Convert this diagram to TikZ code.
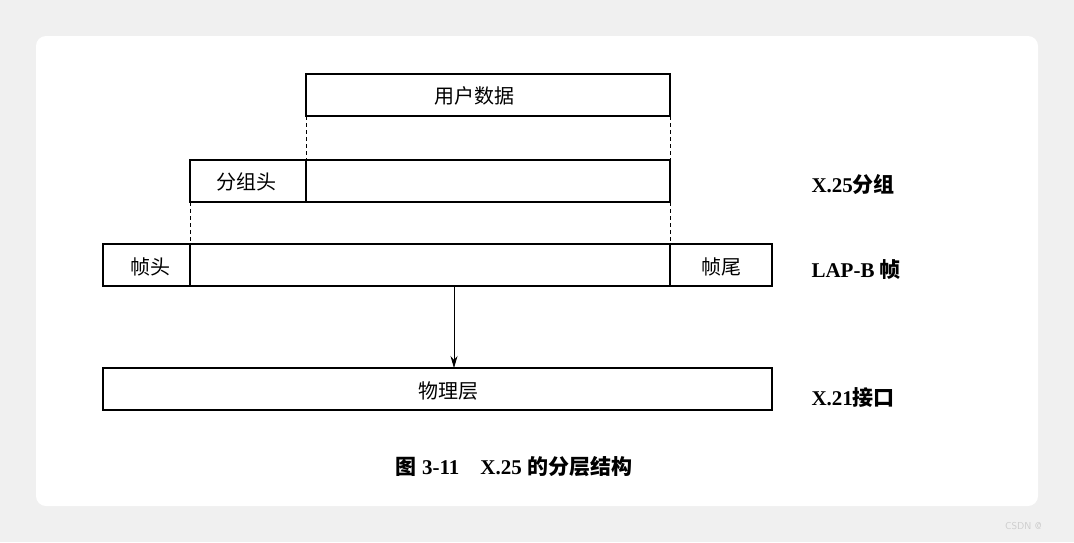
\documentclass[tikz,border=0pt]{standalone}
\usepackage{fontspec}
\setmainfont{Liberation Serif}
\newfontfamily\cjk{Noto Sans CJK SC}
\usetikzlibrary{arrows.meta}
\begin{document}
\begin{tikzpicture}[x=1pt,y=-1pt,
  bx/.style={draw,line width=1.2pt},
  dsh/.style={dash pattern=on 4pt off 3pt,line width=0.7pt},
  lab/.style={font=\fontsize{20}{20}\selectfont\cjk},
  side/.style={font=\fontsize{21}{21}\selectfont\bfseries,anchor=west}]
\fill[gray!12] (0,0) rectangle (1074,542);
\fill[white,rounded corners=10pt] (36,36) rectangle (1038,506);
\useasboundingbox (0,0) rectangle (1074,542);
% user data
\draw[bx] (306,74) rectangle (670,116);
\node[lab] (ud) at (474,96) {用户数据};
% packet
\draw[bx] (190,160) rectangle (670,202);
\draw[bx] (306,160) -- (306,202);
\node[lab] (ph) at (246,182) {分组头};
% frame
\draw[bx] (103,244) rectangle (772,286);
\draw[bx] (190,244) -- (190,286);
\draw[bx] (670,244) -- (670,286);
\node[lab] (fh) at (150,267) {帧头};
\node[lab] (ft) at (721,267) {帧尾};
% dashed
\draw[dsh] (306,116) -- (306,160);
\draw[dsh] (670,116) -- (670,160);
\draw[dsh] (190,202) -- (190,244);
\draw[dsh] (670,202) -- (670,244);
% physical
\draw[bx] (103,368) rectangle (772,410);
\node[lab] (phy) at (448,391) {物理层};
\coordinate (a1) at (454,286);
\coordinate (a2) at (454,368);
\draw[line width=0.8pt,-{Stealth[length=12pt,width=7pt]}] (a1) -- (a2);
% side labels
\node[side] (s1) at (808,184) {X.25{\cjk 分组}};
\node[side] (s2) at (808,270) {LAP-B {\cjk 帧}};
\node[side] (s3) at (808,398) {X.21{\cjk 接口}};
\node[font=\fontsize{21}{21}\selectfont\bfseries] (cap) at (514,467) {{\cjk 图} 3-11\quad X.25 {\cjk 的分层结构}};
\node[font=\fontsize{10}{10}\selectfont\sffamily,text=gray!40,anchor=east] (wm) at (1045,526) {CSDN @};
\end{tikzpicture}
\end{document}
